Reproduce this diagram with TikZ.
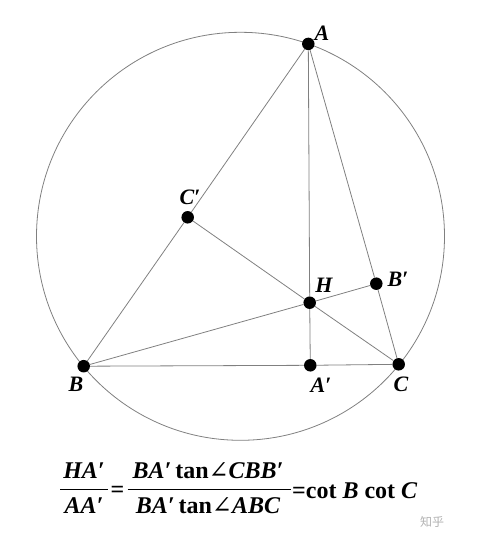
\documentclass[tikz,border=0pt]{standalone}
\usepackage{fontspec}
\setmainfont{Liberation Serif}
\newfontfamily\cjkfont{Noto Sans CJK SC}
\newfontfamily\angfont{DejaVu Serif}
\newcommand\myBI[1]{{\bfseries\itshape #1}}
\newcommand\myAng{{\angfont\mdseries\upshape ∠}}
\begin{document}
\begin{tikzpicture}[x=1pt,y=-1pt,
  pt/.style={circle,fill=black,inner sep=0pt,minimum size=12.5pt},
  geo/.style={draw=black!50,line width=0.8pt},
  lbl/.style={font=\fontsize{22}{25}\selectfont\bfseries\itshape,inner sep=0pt},
  fml/.style={font=\fontsize{24}{28}\selectfont\bfseries,inner sep=0pt,anchor=base},
  fbar/.style={draw=black,line width=0.8pt},
]
\useasboundingbox (0,0) rectangle (478,538);
\draw[geo] (240.5,236.3) circle[radius=204];
% points
\node[pt] (A)  at (308.3,43.9) {};
\node[pt] (B)  at (83.7,366.2) {};
\node[pt] (C)  at (398.7,364.3) {};
\node[pt] (H)  at (309.7,302.7) {};
\node[pt] (Ap) at (310.3,365.3) {};
\node[pt] (Bp) at (376.3,283.7) {};
\node[pt] (Cp) at (187.7,217.3) {};
% segments
\draw[geo] (A) -- (Cp) -- (B);
\draw[geo] (A) -- (Bp) -- (C);
\draw[geo] (B) -- (Ap) -- (C);
\draw[geo] (A) -- (H) -- (Ap);
\draw[geo] (B) -- (H) -- (Bp);
\draw[geo] (C) -- (H) -- (Cp);
% labels
\node[lbl] (lA)  at (322,33)  {A};
\node[lbl] (lCp) at (190,197) {C′};
\node[lbl] (lH)  at (324,285) {H};
\node[lbl] (lBp) at (398,279) {B′};
\node[lbl] (lAp) at (321,385) {A′};
\node[lbl] (lC)  at (401,384) {C};
\node[lbl] (lB)  at (76,384)  {B};
% formula
\node[fml] (n1) at (84,478.3) {\myBI{HA′}};
\node[fml] (d1) at (84,513) {\myBI{AA′}};
\draw[fbar] (60,489) coordinate (b1l) -- (108,489) coordinate (b1r);
\node[fml] (eq1) at (117.5,497) {=};
\node[fml] (n2) at (208,478.3) {\myBI{BA′}\,tan\myAng\myBI{CBB′}};
\node[fml] (d2) at (208,513) {\myBI{BA′}\,tan\myAng\myBI{ABC}};
\draw[fbar] (127.5,489) coordinate (b2l) -- (290.5,489) coordinate (b2r);
\node[fml,anchor=base west] (rest) at (292,498.5) {=cot \myBI{B} cot \myBI{C}};
\node[text=black!30,font=\cjkfont\fontsize{12}{14}\selectfont,anchor=base west,inner sep=0pt] (wm) at (420,526) {知乎};
\end{tikzpicture}
\end{document}
